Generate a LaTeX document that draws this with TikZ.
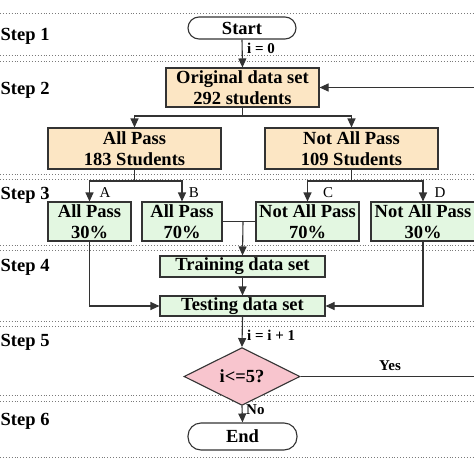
\documentclass[tikz,border=0pt]{standalone}
\usepackage{fontspec}
\setmainfont{Liberation Serif}
\usetikzlibrary{shapes.geometric,arrows.meta}
\definecolor{peach}{HTML}{FCE6C4}
\definecolor{mint}{HTML}{E3F7E1}
\definecolor{rose}{HTML}{F8C5CE}
\definecolor{ln}{HTML}{333333}
\definecolor{sepc}{HTML}{7A7A7A}
\newcommand{\myBig}{\fontsize{18.5}{21.5}\selectfont\bfseries}
\newcommand{\mySmallB}{\fontsize{15}{17}\selectfont\bfseries}
\newcommand{\mySmallR}{\fontsize{15}{17}\selectfont}
\begin{document}
\begin{tikzpicture}[x=1pt,y=-1pt,
  box/.style={draw=ln, line width=1.1pt, inner sep=0pt, align=center, font=\myBig},
  peachbox/.style={box, fill=peach},
  mintbox/.style={box, fill=mint},
  term/.style={box, fill=white, rounded corners=#1},
  decide/.style={box, fill=rose, shape=diamond},
  conn/.style={draw=ln, line width=1.1pt},
  arr/.style={conn, -{Triangle[length=9pt,width=8pt]}},
  seprule/.style={draw=sepc, line width=0.9pt, dotted},
  steplab/.style={anchor=base west, font=\myBig, inner sep=0pt},
  edgelab/.style={font=\mySmallB, inner sep=0pt},
  letterlab/.style={font=\mySmallR, inner sep=0pt}]
\useasboundingbox (0,0) rectangle (474,474);
\fill[white] (0,0) rectangle (474,474);

% separators
\foreach \yy in {13,55,61,174,179,245,250,321,326,395,401,457}
  \draw[seprule] (0,\yy) -- (474,\yy);

% step labels
\node[steplab] (s1) at (0.5,40) {Step 1};
\node[steplab] (s2) at (0.5,94) {Step 2};
\node[steplab] (s3) at (0.5,199) {Step 3};
\node[steplab] (s4) at (0.5,271) {Step 4};
\node[steplab] (s5) at (0.5,346) {Step 5};
\node[steplab] (s6) at (0.5,425) {Step 6};

% nodes
\node[term=11pt, minimum width=108pt, minimum height=22pt] (start) at (242,28) {Start};
\node[peachbox, minimum width=153pt, minimum height=39pt] (orig) at (242.5,87.5) {Original data set\\292 students};
\node[peachbox, minimum width=173pt, minimum height=41pt] (ap) at (134.5,148.5) {All Pass\\183 Students};
\node[peachbox, minimum width=173pt, minimum height=41pt] (nap) at (351.5,148.5) {Not All Pass\\109 Students};
\node[mintbox, minimum width=83pt, minimum height=39pt] (a) at (89.5,221.5) {All Pass\\30\%};
\node[mintbox, minimum width=80pt, minimum height=39pt] (b) at (182,221.5) {All Pass\\70\%};
\node[mintbox, minimum width=103pt, minimum height=39pt] (c) at (307.5,221.5) {Not All Pass\\70\%};
\node[mintbox, minimum width=104pt, minimum height=39pt] (d) at (423,221.5) {Not All Pass\\30\%};
\node[mintbox, minimum width=165pt, minimum height=21pt] (train) at (242.5,266.5) {Training data set};
\node[mintbox, minimum width=165pt, minimum height=20pt] (test) at (242.5,306) {Testing data set};
\node[decide, minimum width=116pt, minimum height=33pt] (dia) at (242,376.5) {i<=5?};
\node[term=13pt, minimum width=109pt, minimum height=27pt] (end) at (242.5,436.5) {End};

% helper coordinates
\coordinate (r1) at (480,376.5);
\coordinate (r2) at (480,87.5);
\coordinate (j1) at (242.5,116);
\coordinate (j2) at (134.5,181);
\coordinate (j3) at (351.5,181);
\coordinate (j4) at (243,221.5);

% connectors
\draw[arr] (start.south) -- (orig.north);
\draw[conn] (orig.south) -- (j1);
\draw[arr] (j1) -| (ap.north);
\draw[arr] (j1) -| (nap.north);
\draw[conn] (ap.south) -- (j2);
\draw[arr] (j2) -| (a.north);
\draw[arr] (j2) -| (b.north);
\draw[conn] (nap.south) -- (j3);
\draw[arr] (j3) -| (c.north);
\draw[arr] (j3) -| (d.north);
\draw[conn] (b.east) -- (c.west);
\draw[arr] (j4) -- (train.north);
\draw[arr] (train.south) -- (test.north);
\draw[arr] (a.south) |- (test.west);
\draw[arr] (d.south) |- (test.east);
\draw[arr] (test.south) -- (dia.north);
\draw[arr] (dia.south) -- (end.north);
\draw[arr] (dia.east) -- (r1) -- (r2) -- (orig.east);

% labels
\node[edgelab, anchor=west] (l0) at (247,48) {i = 0};
\node[edgelab, anchor=west] (l1) at (247,335) {i = i + 1};
\node[edgelab] (lyes) at (390,366) {Yes};
\node[edgelab, anchor=west] (lno) at (246,410) {No};
\node[letterlab] (la) at (105,193) {A};
\node[letterlab] (lb) at (194,193) {B};
\node[letterlab] (lc) at (328,193) {C};
\node[letterlab] (ld) at (440,193) {D};
\end{tikzpicture}
\end{document}
